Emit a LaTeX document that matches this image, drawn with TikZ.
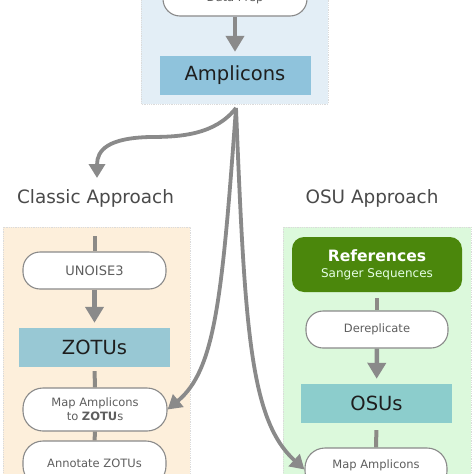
\documentclass[tikz,border=0pt]{standalone}
\usepackage{fontspec}
\setmainfont{DejaVu Sans}
\usetikzlibrary{arrows.meta}
\definecolor{topbg}{HTML}{E3EEF6}
\definecolor{leftbg}{HTML}{FDEFDB}
\definecolor{rightbg}{HTML}{DCF9DC}
\definecolor{ampfill}{HTML}{8FC3DC}
\definecolor{zotufill}{HTML}{98C8D4}
\definecolor{osufill}{HTML}{8CCDCC}
\definecolor{refsfill}{HTML}{4B870C}
\definecolor{arrgray}{HTML}{8A8A8A}
\definecolor{linegray}{HTML}{8C8A86}
\definecolor{boxborder}{HTML}{8A8A8A}
\definecolor{smalltext}{HTML}{5E5E5E}
\definecolor{bigtext}{HTML}{1E1E1E}
\definecolor{headtext}{HTML}{4A4A4A}
\begin{document}
\begin{tikzpicture}[x=1pt,y=-1pt,
  panel/.style={draw=black!14, densely dotted, line width=0.8pt},
  rbox/.style={draw=boxborder, line width=1.1pt, fill=white, inner sep=0pt,
    rounded corners=17pt, text=smalltext, align=center,
    font=\fontsize{11.5}{14}\selectfont},
  bigbox/.style={inner sep=0pt, text=bigtext, font=\fontsize{19.5}{22}\selectfont},
  heading/.style={inner sep=0pt, text=headtext, font=\fontsize{18.4}{22}\selectfont},
  conn/.style={draw=linegray, line width=4pt},
  arr/.style={draw=arrgray, line width=4.5pt, -{Triangle[width=18pt,length=16pt]}},
  carr/.style={draw=arrgray, line width=3.8pt, -{Triangle[width=16pt,length=14pt]}}
]
\useasboundingbox (0,0) rectangle (474,474);
\clip (0,0) rectangle (474,474);
\fill[white] (0,0) rectangle (474,474);

% panels
\draw[panel, fill=topbg] (141,-5) rectangle (328,104);
\draw[panel, fill=leftbg] (3,227) rectangle (190,480);
\draw[panel, fill=rightbg] (283,227) rectangle (471,480);

% top
\node[rbox, minimum width=144pt, minimum height=34pt] (prep) at (235,-1) {Data Prep};
\node[bigbox, fill=ampfill, minimum width=151pt, minimum height=39pt] (amp) at (235,75.5) {Amplicons};
\draw[arr, shorten >=4pt] (prep) -- (amp);

% headings
\node[heading] (classic) at (95.5,198) {Classic Approach};
\node[heading] (osu) at (372,198) {OSU Approach};

% classic approach
\coordinate (lstub) at (94.5,236);
\node[rbox, minimum width=143pt, minimum height=37pt, font=\fontsize{13}{15}\selectfont] (unoise) at (94.5,270.5) {UNOISE3};
\node[bigbox, fill=zotufill, minimum width=151pt, minimum height=39pt] (zotu) at (94.5,347.5) {ZOTUs};
\node[rbox, minimum width=144pt, minimum height=43pt, rounded corners=20pt] (mapl) at (95,409.5) {Map Amplicons\\to \textbf{ZOTU}s};
\node[rbox, minimum width=143pt, minimum height=45pt, rounded corners=20pt] (annot) at (94.5,463.5) {Annotate ZOTUs};
\draw[conn] (lstub) -- (unoise);
\draw[arr, shorten >=5pt] (unoise) -- (zotu);
\draw[conn, shorten <=4pt] (zotu) -- (mapl);
\draw[conn] (mapl) -- (annot);

% OSU approach
\node[fill=refsfill, rounded corners=12pt, minimum width=170pt, minimum height=55pt, inner sep=0pt, align=center, text=white,
  font=\fontsize{12}{15}\selectfont] (refs) at (377,264.5)
  {\textbf{\fontsize{15.6}{15}\selectfont References}\\[1pt]\textcolor{white!90!green}{Sanger Sequences}};
\node[rbox, minimum width=142pt, minimum height=37pt] (derep) at (377,329.5) {Dereplicate};
\node[bigbox, fill=osufill, minimum width=151pt, minimum height=39pt] (osus) at (376.5,403.5) {OSUs};
\node[rbox, minimum width=142pt, minimum height=43pt, rounded corners=20pt, text depth=11pt] (mapr) at (376,469.5) {Map Amplicons};
\draw[conn, shorten <=6pt] (refs) -- (derep);
\draw[arr, shorten >=5pt] (derep) -- (osus);
\draw[conn, shorten <=7pt] (osus) -- (mapr);

% split arrows
\coordinate (split) at (236,108);
\coordinate (classictop) at (97,178);
\draw[carr] (split) .. controls (215,135) and (180,137) .. (150,137)
  .. controls (108,138) and (97,150) .. (classictop);
\draw[carr] (split) .. controls (222,300) and (215,370) .. (mapl.east);
\draw[carr] (split) .. controls (245,330) and (250,420) .. (mapr.west);
\end{tikzpicture}
\end{document}
